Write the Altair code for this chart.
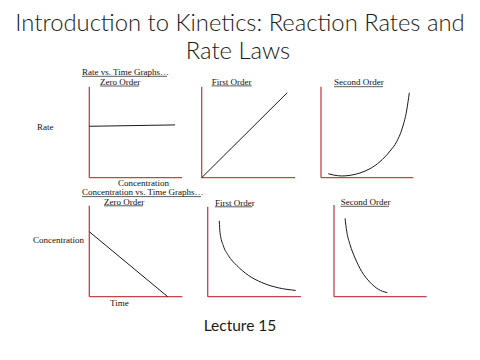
import altair as alt
import pandas as pd

OFF = 8  # page margin

# ---------------- data ----------------
# Rate vs. concentration
rate_zero_conc = [0.0, 9.25]
rate_zero_rate = [5.65, 5.80]
rate_first_conc = [0.0, 9.17]
rate_first_rate = [0.0, 9.34]
rate_second_conc = [0.79, 1.33, 2.24, 3.14, 4.23, 5.31, 6.39, 7.48, 8.20, 8.74, 9.29, 9.57]
rate_second_rate = [0.44, 0.30, 0.19, 0.26, 0.52, 0.99, 1.76, 2.93, 3.96, 5.24, 7.44, 9.34]
# Concentration vs. time
conc_zero_time = [0.0, 8.43]
conc_zero_conc = [7.14, 0.0]
conc_first_time = [1.24, 1.32, 1.67, 2.21, 3.11, 4.35, 5.79, 7.57, 9.43]
conc_first_conc = [8.43, 7.14, 5.68, 4.58, 3.48, 2.38, 1.58, 0.99, 0.70]
conc_second_time = [1.19, 1.37, 1.73, 2.27, 2.99, 3.88, 4.78, 5.75]
conc_second_conc = [8.54, 7.14, 5.68, 4.22, 2.75, 1.58, 0.81, 0.44]

axis_domain = [0, 10]

# ---------------- layout (screen pixels: left, right, bottom, top) ----------------
panels = [
    (rate_zero_conc, rate_zero_rate, (89.3, 182.0, 177.7, 86.7)),
    (rate_first_conc, rate_first_rate, (201.7, 295.0, 177.7, 86.7)),
    (rate_second_conc, rate_second_rate, (321.0, 413.3, 177.7, 86.7)),
    (conc_zero_time, conc_zero_conc, (89.3, 182.3, 296.7, 205.7)),
    (conc_first_time, conc_first_conc, (207.7, 301.0, 296.7, 206.7)),
    (conc_second_time, conc_second_conc, (334.0, 426.7, 296.7, 205.0)),
]

AXIS_RED = "#c2454a"
LINE_COL = "#1a1a1a"
SERIF = "Liberation Serif"
SANS = "Lato"

layers = []
for xs, ys, (L, R, B, T) in panels:
    xsc = alt.Scale(domain=axis_domain, range=[L - OFF, R - OFF], nice=False, zero=False)
    ysc = alt.Scale(domain=axis_domain, range=[B - OFF, T - OFF], nice=False, zero=False)
    df = pd.DataFrame({"x": xs, "y": ys})
    axes_df = pd.DataFrame({"x": [0, 0], "y": [0, 0], "x2": [0, 10], "y2": [10, 0]})
    layers.append(
        alt.Chart(axes_df).mark_rule(color=AXIS_RED, strokeWidth=1.3).encode(
            x=alt.X("x:Q", scale=xsc, axis=None),
            y=alt.Y("y:Q", scale=ysc, axis=None),
            x2="x2:Q",
            y2="y2:Q",
        )
    )
    layers.append(
        alt.Chart(df).mark_line(color=LINE_COL, strokeWidth=1, interpolate="monotone").encode(
            x=alt.X("x:Q", scale=xsc, axis=None),
            y=alt.Y("y:Q", scale=ysc, axis=None),
        )
    )

one = pd.DataFrame({"k": [0]})


def text(label, x, y, size, font=SERIF, align="left", weight="normal", color="#111"):
    return alt.Chart(one).mark_text(
        text=label, font=font, fontSize=size, align=align, baseline="middle",
        fontWeight=weight, color=color,
    ).encode(x=alt.value(x - OFF), y=alt.value(y - OFF))


def underline(x1, x2, y):
    return alt.Chart(one).mark_rule(color="#333", strokeWidth=0.8).encode(
        x=alt.value(x1 - OFF), x2=alt.value(x2 - OFF), y=alt.value(y - OFF)
    )


FS = 9.0
# headers with underlines: (label, left, right, text y, underline y)
headers = [
    ("Rate vs. Time Graphs\u2026", 82.0, 167.0, 71.7, 76.3),
    ("Zero Order", 100.0, 139.0, 81.5, 86.0),
    ("First Order", 211.7, 251.7, 81.5, 85.9),
    ("Second Order", 334.0, 383.0, 82.3, 86.7),
    ("Concentration vs. Time Graphs\u2026", 82.0, 201.0, 192.2, 196.6),
    ("Zero Order", 104.0, 143.0, 201.5, 205.8),
    ("First Order", 215.0, 252.3, 202.6, 206.8),
    ("Second Order", 340.7, 389.0, 202.0, 206.3),
]
for lab, x1, x2, ty, uy in headers:
    layers.append(text(lab, x1, ty, FS))
    layers.append(underline(x1, x2, uy))

layers.append(text("Rate", 37.0, 127.0, FS))
layers.append(text("Concentration", 118.0, 183.3, FS))
layers.append(text("Concentration", 84.0, 240.0, FS, align="right"))
layers.append(text("Time", 110.0, 303.3, FS))

# slide title and footer
layers.append(text("Introduction to Kinetics: Reaction Rates and", 240.0, 23.5, 23.8, font=SANS, align="center", weight=300, color="#1a1a1a"))
layers.append(text("Rate Laws", 238.0, 51.5, 23.8, font=SANS, align="center", weight=300, color="#1a1a1a"))
layers.append(text("Lecture 15", 240.0, 326.0, 15.5, font=SANS, align="center", color="#1a1a1a"))

chart = alt.layer(*layers).resolve_scale(x="independent", y="independent").properties(
    width=464, height=344, padding=0, background="white",
    autosize=alt.AutoSizeParams(type="none"),
).configure_view(stroke=None)

chart.save("out.html", embed_options={"renderer": "svg", "actions": False})
